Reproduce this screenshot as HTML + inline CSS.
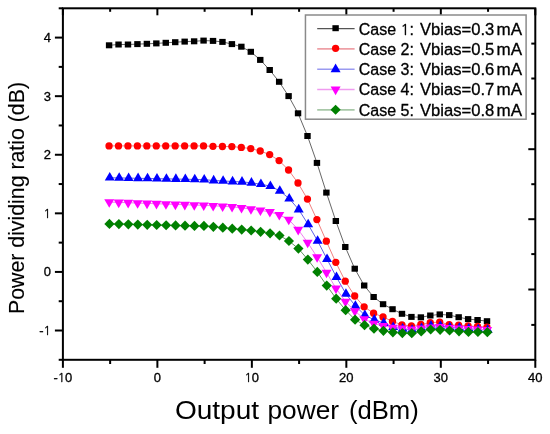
<!DOCTYPE html>
<html><head><meta charset="utf-8"><title>Power dividing ratio</title>
<style>
html,body{margin:0;padding:0;background:#fff;width:550px;height:434px;overflow:hidden}
svg{display:block}
text{font-family:"Liberation Sans",Arial,sans-serif;fill:#000;stroke:#000;stroke-width:0.3px}
.tl text{font-size:13px}
.lg{font-size:16px}
.n1{font-family:"NanumGothic","Liberation Sans",sans-serif}
.yt{font-size:21.3px;stroke-width:0.1px}
.xt{font-size:26px;stroke-width:0}
</style></head><body>
<svg width="550" height="434" viewBox="0 0 550 434">
<rect width="550" height="434" fill="#fff"/>
<g><polyline points="109.09,45.30 118.54,44.50 127.99,44.50 137.43,44.10 146.88,43.80 156.33,43.40 165.78,42.80 175.23,42.20 184.67,41.60 194.12,41.30 203.57,40.60 213.02,40.90 222.47,41.90 231.91,44.10 241.36,46.70 250.81,51.80 260.26,59.90 269.71,70.00 279.15,81.80 288.60,96.10 298.05,113.30 307.50,136.00 316.95,162.90 326.39,192.60 335.84,221.00 345.29,247.00 354.74,268.70 364.19,285.50 373.63,297.00 383.08,304.20 392.53,309.20 401.98,313.80 411.43,316.90 420.87,317.30 430.32,315.50 439.77,314.40 449.22,315.10 458.67,317.20 468.11,319.10 477.56,320.00 487.01,321.20" fill="none" stroke="#666666" stroke-width="1"/><rect x="105.89" y="42.30" width="6.4" height="6.0" fill="#000000"/><rect x="115.34" y="41.50" width="6.4" height="6.0" fill="#000000"/><rect x="124.79" y="41.50" width="6.4" height="6.0" fill="#000000"/><rect x="134.23" y="41.10" width="6.4" height="6.0" fill="#000000"/><rect x="143.68" y="40.80" width="6.4" height="6.0" fill="#000000"/><rect x="153.13" y="40.40" width="6.4" height="6.0" fill="#000000"/><rect x="162.58" y="39.80" width="6.4" height="6.0" fill="#000000"/><rect x="172.03" y="39.20" width="6.4" height="6.0" fill="#000000"/><rect x="181.47" y="38.60" width="6.4" height="6.0" fill="#000000"/><rect x="190.92" y="38.30" width="6.4" height="6.0" fill="#000000"/><rect x="200.37" y="37.60" width="6.4" height="6.0" fill="#000000"/><rect x="209.82" y="37.90" width="6.4" height="6.0" fill="#000000"/><rect x="219.27" y="38.90" width="6.4" height="6.0" fill="#000000"/><rect x="228.71" y="41.10" width="6.4" height="6.0" fill="#000000"/><rect x="238.16" y="43.70" width="6.4" height="6.0" fill="#000000"/><rect x="247.61" y="48.80" width="6.4" height="6.0" fill="#000000"/><rect x="257.06" y="56.90" width="6.4" height="6.0" fill="#000000"/><rect x="266.51" y="67.00" width="6.4" height="6.0" fill="#000000"/><rect x="275.95" y="78.80" width="6.4" height="6.0" fill="#000000"/><rect x="285.40" y="93.10" width="6.4" height="6.0" fill="#000000"/><rect x="294.85" y="110.30" width="6.4" height="6.0" fill="#000000"/><rect x="304.30" y="133.00" width="6.4" height="6.0" fill="#000000"/><rect x="313.75" y="159.90" width="6.4" height="6.0" fill="#000000"/><rect x="323.19" y="189.60" width="6.4" height="6.0" fill="#000000"/><rect x="332.64" y="218.00" width="6.4" height="6.0" fill="#000000"/><rect x="342.09" y="244.00" width="6.4" height="6.0" fill="#000000"/><rect x="351.54" y="265.70" width="6.4" height="6.0" fill="#000000"/><rect x="360.99" y="282.50" width="6.4" height="6.0" fill="#000000"/><rect x="370.43" y="294.00" width="6.4" height="6.0" fill="#000000"/><rect x="379.88" y="301.20" width="6.4" height="6.0" fill="#000000"/><rect x="389.33" y="306.20" width="6.4" height="6.0" fill="#000000"/><rect x="398.78" y="310.80" width="6.4" height="6.0" fill="#000000"/><rect x="408.23" y="313.90" width="6.4" height="6.0" fill="#000000"/><rect x="417.67" y="314.30" width="6.4" height="6.0" fill="#000000"/><rect x="427.12" y="312.50" width="6.4" height="6.0" fill="#000000"/><rect x="436.57" y="311.40" width="6.4" height="6.0" fill="#000000"/><rect x="446.02" y="312.10" width="6.4" height="6.0" fill="#000000"/><rect x="455.47" y="314.20" width="6.4" height="6.0" fill="#000000"/><rect x="464.91" y="316.10" width="6.4" height="6.0" fill="#000000"/><rect x="474.36" y="317.00" width="6.4" height="6.0" fill="#000000"/><rect x="483.81" y="318.20" width="6.4" height="6.0" fill="#000000"/><polyline points="109.04,145.90 118.49,145.90 127.94,145.90 137.38,145.90 146.83,145.90 156.28,145.90 165.73,145.90 175.18,145.90 184.62,145.90 194.07,145.90 203.52,145.90 212.97,146.30 222.42,146.50 231.86,146.60 241.31,147.40 250.76,148.60 260.21,151.00 269.66,154.60 279.10,160.60 288.55,170.00 298.00,183.00 307.45,199.10 316.90,219.60 326.34,241.20 335.79,262.30 345.24,281.20 354.69,296.00 364.14,306.80 373.58,313.20 383.03,317.00 392.48,321.40 401.93,324.80 411.38,325.90 420.82,324.50 430.27,322.70 439.72,322.10 449.17,324.70 458.62,325.20 468.06,325.90 477.51,326.50 486.96,327.20" fill="none" stroke="#f08080" stroke-width="1"/><circle cx="109.04" cy="145.90" r="3.65" fill="#ff0000"/><circle cx="118.49" cy="145.90" r="3.65" fill="#ff0000"/><circle cx="127.94" cy="145.90" r="3.65" fill="#ff0000"/><circle cx="137.38" cy="145.90" r="3.65" fill="#ff0000"/><circle cx="146.83" cy="145.90" r="3.65" fill="#ff0000"/><circle cx="156.28" cy="145.90" r="3.65" fill="#ff0000"/><circle cx="165.73" cy="145.90" r="3.65" fill="#ff0000"/><circle cx="175.18" cy="145.90" r="3.65" fill="#ff0000"/><circle cx="184.62" cy="145.90" r="3.65" fill="#ff0000"/><circle cx="194.07" cy="145.90" r="3.65" fill="#ff0000"/><circle cx="203.52" cy="145.90" r="3.65" fill="#ff0000"/><circle cx="212.97" cy="146.30" r="3.65" fill="#ff0000"/><circle cx="222.42" cy="146.50" r="3.65" fill="#ff0000"/><circle cx="231.86" cy="146.60" r="3.65" fill="#ff0000"/><circle cx="241.31" cy="147.40" r="3.65" fill="#ff0000"/><circle cx="250.76" cy="148.60" r="3.65" fill="#ff0000"/><circle cx="260.21" cy="151.00" r="3.65" fill="#ff0000"/><circle cx="269.66" cy="154.60" r="3.65" fill="#ff0000"/><circle cx="279.10" cy="160.60" r="3.65" fill="#ff0000"/><circle cx="288.55" cy="170.00" r="3.65" fill="#ff0000"/><circle cx="298.00" cy="183.00" r="3.65" fill="#ff0000"/><circle cx="307.45" cy="199.10" r="3.65" fill="#ff0000"/><circle cx="316.90" cy="219.60" r="3.65" fill="#ff0000"/><circle cx="326.34" cy="241.20" r="3.65" fill="#ff0000"/><circle cx="335.79" cy="262.30" r="3.65" fill="#ff0000"/><circle cx="345.24" cy="281.20" r="3.65" fill="#ff0000"/><circle cx="354.69" cy="296.00" r="3.65" fill="#ff0000"/><circle cx="364.14" cy="306.80" r="3.65" fill="#ff0000"/><circle cx="373.58" cy="313.20" r="3.65" fill="#ff0000"/><circle cx="383.03" cy="317.00" r="3.65" fill="#ff0000"/><circle cx="392.48" cy="321.40" r="3.65" fill="#ff0000"/><circle cx="401.93" cy="324.80" r="3.65" fill="#ff0000"/><circle cx="411.38" cy="325.90" r="3.65" fill="#ff0000"/><circle cx="420.82" cy="324.50" r="3.65" fill="#ff0000"/><circle cx="430.27" cy="322.70" r="3.65" fill="#ff0000"/><circle cx="439.72" cy="322.10" r="3.65" fill="#ff0000"/><circle cx="449.17" cy="324.70" r="3.65" fill="#ff0000"/><circle cx="458.62" cy="325.20" r="3.65" fill="#ff0000"/><circle cx="468.06" cy="325.90" r="3.65" fill="#ff0000"/><circle cx="477.51" cy="326.50" r="3.65" fill="#ff0000"/><circle cx="486.96" cy="327.20" r="3.65" fill="#ff0000"/><polyline points="109.74,177.73 119.19,177.92 128.64,178.11 138.08,178.30 147.53,178.49 156.98,178.68 166.43,178.87 175.88,179.06 185.32,179.24 194.77,179.43 204.22,179.63 213.67,180.53 223.12,180.93 232.56,181.53 242.01,181.83 251.46,182.83 260.91,184.23 270.36,186.13 279.80,190.93 289.25,198.63 298.70,209.53 308.15,224.43 317.60,240.93 327.04,259.13 336.49,277.23 345.94,293.93 355.39,305.93 364.84,315.23 374.28,319.83 383.73,323.03 393.18,327.13 402.63,328.83 412.08,329.93 421.52,328.33 430.97,325.83 440.42,325.93 449.87,327.43 459.32,327.93 468.76,328.73 478.21,329.43 487.66,329.93" fill="none" stroke="#6060e8" stroke-width="1"/><path d="M109.74 172.00L114.74 180.60L104.74 180.60Z" fill="#0000ff"/><path d="M119.19 172.19L124.19 180.79L114.19 180.79Z" fill="#0000ff"/><path d="M128.64 172.38L133.64 180.98L123.64 180.98Z" fill="#0000ff"/><path d="M138.08 172.57L143.08 181.17L133.08 181.17Z" fill="#0000ff"/><path d="M147.53 172.76L152.53 181.36L142.53 181.36Z" fill="#0000ff"/><path d="M156.98 172.94L161.98 181.54L151.98 181.54Z" fill="#0000ff"/><path d="M166.43 173.13L171.43 181.73L161.43 181.73Z" fill="#0000ff"/><path d="M175.88 173.32L180.88 181.92L170.88 181.92Z" fill="#0000ff"/><path d="M185.32 173.51L190.32 182.11L180.32 182.11Z" fill="#0000ff"/><path d="M194.77 173.70L199.77 182.30L189.77 182.30Z" fill="#0000ff"/><path d="M204.22 173.90L209.22 182.50L199.22 182.50Z" fill="#0000ff"/><path d="M213.67 174.80L218.67 183.40L208.67 183.40Z" fill="#0000ff"/><path d="M223.12 175.20L228.12 183.80L218.12 183.80Z" fill="#0000ff"/><path d="M232.56 175.80L237.56 184.40L227.56 184.40Z" fill="#0000ff"/><path d="M242.01 176.10L247.01 184.70L237.01 184.70Z" fill="#0000ff"/><path d="M251.46 177.10L256.46 185.70L246.46 185.70Z" fill="#0000ff"/><path d="M260.91 178.50L265.91 187.10L255.91 187.10Z" fill="#0000ff"/><path d="M270.36 180.40L275.36 189.00L265.36 189.00Z" fill="#0000ff"/><path d="M279.80 185.20L284.80 193.80L274.80 193.80Z" fill="#0000ff"/><path d="M289.25 192.90L294.25 201.50L284.25 201.50Z" fill="#0000ff"/><path d="M298.70 203.80L303.70 212.40L293.70 212.40Z" fill="#0000ff"/><path d="M308.15 218.70L313.15 227.30L303.15 227.30Z" fill="#0000ff"/><path d="M317.60 235.20L322.60 243.80L312.60 243.80Z" fill="#0000ff"/><path d="M327.04 253.40L332.04 262.00L322.04 262.00Z" fill="#0000ff"/><path d="M336.49 271.50L341.49 280.10L331.49 280.10Z" fill="#0000ff"/><path d="M345.94 288.20L350.94 296.80L340.94 296.80Z" fill="#0000ff"/><path d="M355.39 300.20L360.39 308.80L350.39 308.80Z" fill="#0000ff"/><path d="M364.84 309.50L369.84 318.10L359.84 318.10Z" fill="#0000ff"/><path d="M374.28 314.10L379.28 322.70L369.28 322.70Z" fill="#0000ff"/><path d="M383.73 317.30L388.73 325.90L378.73 325.90Z" fill="#0000ff"/><path d="M393.18 321.40L398.18 330.00L388.18 330.00Z" fill="#0000ff"/><path d="M402.63 323.10L407.63 331.70L397.63 331.70Z" fill="#0000ff"/><path d="M412.08 324.20L417.08 332.80L407.08 332.80Z" fill="#0000ff"/><path d="M421.52 322.60L426.52 331.20L416.52 331.20Z" fill="#0000ff"/><path d="M430.97 320.10L435.97 328.70L425.97 328.70Z" fill="#0000ff"/><path d="M440.42 320.20L445.42 328.80L435.42 328.80Z" fill="#0000ff"/><path d="M449.87 321.70L454.87 330.30L444.87 330.30Z" fill="#0000ff"/><path d="M459.32 322.20L464.32 330.80L454.32 330.80Z" fill="#0000ff"/><path d="M468.76 323.00L473.76 331.60L463.76 331.60Z" fill="#0000ff"/><path d="M478.21 323.70L483.21 332.30L473.21 332.30Z" fill="#0000ff"/><path d="M487.66 324.20L492.66 332.80L482.66 332.80Z" fill="#0000ff"/><polyline points="109.24,202.07 118.69,202.40 128.14,202.73 137.58,203.07 147.03,203.40 156.48,203.73 165.93,204.07 175.38,204.40 184.82,204.73 194.27,205.07 203.72,205.37 213.17,205.77 222.62,206.27 232.06,206.87 241.51,207.77 250.96,209.07 260.41,210.37 269.86,211.87 279.30,214.87 288.75,219.57 298.20,229.67 307.65,242.57 317.10,257.07 326.54,272.57 335.99,288.27 345.44,301.57 354.89,311.07 364.34,319.07 373.78,323.57 383.23,325.87 392.68,327.67 402.13,328.37 411.58,329.37 421.02,328.37 430.47,327.37 439.92,326.87 449.37,327.87 458.82,328.37 468.26,328.87 477.71,329.37 487.16,329.87" fill="none" stroke="#f080f0" stroke-width="1"/><path d="M104.24 199.20L114.24 199.20L109.24 207.80Z" fill="#ff00ff"/><path d="M113.69 199.53L123.69 199.53L118.69 208.13Z" fill="#ff00ff"/><path d="M123.14 199.87L133.14 199.87L128.14 208.47Z" fill="#ff00ff"/><path d="M132.58 200.20L142.58 200.20L137.58 208.80Z" fill="#ff00ff"/><path d="M142.03 200.53L152.03 200.53L147.03 209.13Z" fill="#ff00ff"/><path d="M151.48 200.87L161.48 200.87L156.48 209.47Z" fill="#ff00ff"/><path d="M160.93 201.20L170.93 201.20L165.93 209.80Z" fill="#ff00ff"/><path d="M170.38 201.53L180.38 201.53L175.38 210.13Z" fill="#ff00ff"/><path d="M179.82 201.87L189.82 201.87L184.82 210.47Z" fill="#ff00ff"/><path d="M189.27 202.20L199.27 202.20L194.27 210.80Z" fill="#ff00ff"/><path d="M198.72 202.50L208.72 202.50L203.72 211.10Z" fill="#ff00ff"/><path d="M208.17 202.90L218.17 202.90L213.17 211.50Z" fill="#ff00ff"/><path d="M217.62 203.40L227.62 203.40L222.62 212.00Z" fill="#ff00ff"/><path d="M227.06 204.00L237.06 204.00L232.06 212.60Z" fill="#ff00ff"/><path d="M236.51 204.90L246.51 204.90L241.51 213.50Z" fill="#ff00ff"/><path d="M245.96 206.20L255.96 206.20L250.96 214.80Z" fill="#ff00ff"/><path d="M255.41 207.50L265.41 207.50L260.41 216.10Z" fill="#ff00ff"/><path d="M264.86 209.00L274.86 209.00L269.86 217.60Z" fill="#ff00ff"/><path d="M274.30 212.00L284.30 212.00L279.30 220.60Z" fill="#ff00ff"/><path d="M283.75 216.70L293.75 216.70L288.75 225.30Z" fill="#ff00ff"/><path d="M293.20 226.80L303.20 226.80L298.20 235.40Z" fill="#ff00ff"/><path d="M302.65 239.70L312.65 239.70L307.65 248.30Z" fill="#ff00ff"/><path d="M312.10 254.20L322.10 254.20L317.10 262.80Z" fill="#ff00ff"/><path d="M321.54 269.70L331.54 269.70L326.54 278.30Z" fill="#ff00ff"/><path d="M330.99 285.40L340.99 285.40L335.99 294.00Z" fill="#ff00ff"/><path d="M340.44 298.70L350.44 298.70L345.44 307.30Z" fill="#ff00ff"/><path d="M349.89 308.20L359.89 308.20L354.89 316.80Z" fill="#ff00ff"/><path d="M359.34 316.20L369.34 316.20L364.34 324.80Z" fill="#ff00ff"/><path d="M368.78 320.70L378.78 320.70L373.78 329.30Z" fill="#ff00ff"/><path d="M378.23 323.00L388.23 323.00L383.23 331.60Z" fill="#ff00ff"/><path d="M387.68 324.80L397.68 324.80L392.68 333.40Z" fill="#ff00ff"/><path d="M397.13 325.50L407.13 325.50L402.13 334.10Z" fill="#ff00ff"/><path d="M406.58 326.50L416.58 326.50L411.58 335.10Z" fill="#ff00ff"/><path d="M416.02 325.50L426.02 325.50L421.02 334.10Z" fill="#ff00ff"/><path d="M425.47 324.50L435.47 324.50L430.47 333.10Z" fill="#ff00ff"/><path d="M434.92 324.00L444.92 324.00L439.92 332.60Z" fill="#ff00ff"/><path d="M444.37 325.00L454.37 325.00L449.37 333.60Z" fill="#ff00ff"/><path d="M453.82 325.50L463.82 325.50L458.82 334.10Z" fill="#ff00ff"/><path d="M463.26 326.00L473.26 326.00L468.26 334.60Z" fill="#ff00ff"/><path d="M472.71 326.50L482.71 326.50L477.71 335.10Z" fill="#ff00ff"/><path d="M482.16 327.00L492.16 327.00L487.16 335.60Z" fill="#ff00ff"/><polyline points="109.44,223.90 118.89,224.12 128.34,224.34 137.78,224.57 147.23,224.79 156.68,225.01 166.13,225.23 175.58,225.46 185.02,225.68 194.47,225.90 203.92,225.90 213.37,226.80 222.82,227.70 232.26,228.70 241.71,229.60 251.16,230.50 260.61,231.80 270.06,233.30 279.50,235.50 288.95,241.00 298.40,248.60 307.85,259.60 317.30,271.90 326.74,285.60 336.19,298.70 345.64,310.20 355.09,319.70 364.54,325.20 373.98,328.70 383.43,330.80 392.88,332.30 402.33,333.10 411.78,333.20 421.22,331.40 430.67,329.50 440.12,329.80 449.57,330.50 459.02,331.30 468.46,331.90 477.91,332.00 487.36,332.20" fill="none" stroke="#609a60" stroke-width="1"/><path d="M109.44 218.80L114.54 223.90L109.44 229.00L104.34 223.90Z" fill="#008000"/><path d="M118.89 219.02L123.99 224.12L118.89 229.22L113.79 224.12Z" fill="#008000"/><path d="M128.34 219.24L133.44 224.34L128.34 229.44L123.24 224.34Z" fill="#008000"/><path d="M137.78 219.47L142.88 224.57L137.78 229.67L132.68 224.57Z" fill="#008000"/><path d="M147.23 219.69L152.33 224.79L147.23 229.89L142.13 224.79Z" fill="#008000"/><path d="M156.68 219.91L161.78 225.01L156.68 230.11L151.58 225.01Z" fill="#008000"/><path d="M166.13 220.13L171.23 225.23L166.13 230.33L161.03 225.23Z" fill="#008000"/><path d="M175.58 220.36L180.68 225.46L175.58 230.56L170.48 225.46Z" fill="#008000"/><path d="M185.02 220.58L190.12 225.68L185.02 230.78L179.92 225.68Z" fill="#008000"/><path d="M194.47 220.80L199.57 225.90L194.47 231.00L189.37 225.90Z" fill="#008000"/><path d="M203.92 220.80L209.02 225.90L203.92 231.00L198.82 225.90Z" fill="#008000"/><path d="M213.37 221.70L218.47 226.80L213.37 231.90L208.27 226.80Z" fill="#008000"/><path d="M222.82 222.60L227.92 227.70L222.82 232.80L217.72 227.70Z" fill="#008000"/><path d="M232.26 223.60L237.36 228.70L232.26 233.80L227.16 228.70Z" fill="#008000"/><path d="M241.71 224.50L246.81 229.60L241.71 234.70L236.61 229.60Z" fill="#008000"/><path d="M251.16 225.40L256.26 230.50L251.16 235.60L246.06 230.50Z" fill="#008000"/><path d="M260.61 226.70L265.71 231.80L260.61 236.90L255.51 231.80Z" fill="#008000"/><path d="M270.06 228.20L275.16 233.30L270.06 238.40L264.96 233.30Z" fill="#008000"/><path d="M279.50 230.40L284.60 235.50L279.50 240.60L274.40 235.50Z" fill="#008000"/><path d="M288.95 235.90L294.05 241.00L288.95 246.10L283.85 241.00Z" fill="#008000"/><path d="M298.40 243.50L303.50 248.60L298.40 253.70L293.30 248.60Z" fill="#008000"/><path d="M307.85 254.50L312.95 259.60L307.85 264.70L302.75 259.60Z" fill="#008000"/><path d="M317.30 266.80L322.40 271.90L317.30 277.00L312.20 271.90Z" fill="#008000"/><path d="M326.74 280.50L331.84 285.60L326.74 290.70L321.64 285.60Z" fill="#008000"/><path d="M336.19 293.60L341.29 298.70L336.19 303.80L331.09 298.70Z" fill="#008000"/><path d="M345.64 305.10L350.74 310.20L345.64 315.30L340.54 310.20Z" fill="#008000"/><path d="M355.09 314.60L360.19 319.70L355.09 324.80L349.99 319.70Z" fill="#008000"/><path d="M364.54 320.10L369.64 325.20L364.54 330.30L359.44 325.20Z" fill="#008000"/><path d="M373.98 323.60L379.08 328.70L373.98 333.80L368.88 328.70Z" fill="#008000"/><path d="M383.43 325.70L388.53 330.80L383.43 335.90L378.33 330.80Z" fill="#008000"/><path d="M392.88 327.20L397.98 332.30L392.88 337.40L387.78 332.30Z" fill="#008000"/><path d="M402.33 328.00L407.43 333.10L402.33 338.20L397.23 333.10Z" fill="#008000"/><path d="M411.78 328.10L416.88 333.20L411.78 338.30L406.68 333.20Z" fill="#008000"/><path d="M421.22 326.30L426.32 331.40L421.22 336.50L416.12 331.40Z" fill="#008000"/><path d="M430.67 324.40L435.77 329.50L430.67 334.60L425.57 329.50Z" fill="#008000"/><path d="M440.12 324.70L445.22 329.80L440.12 334.90L435.02 329.80Z" fill="#008000"/><path d="M449.57 325.40L454.67 330.50L449.57 335.60L444.47 330.50Z" fill="#008000"/><path d="M459.02 326.20L464.12 331.30L459.02 336.40L453.92 331.30Z" fill="#008000"/><path d="M468.46 326.80L473.56 331.90L468.46 337.00L463.36 331.90Z" fill="#008000"/><path d="M477.91 326.90L483.01 332.00L477.91 337.10L472.81 332.00Z" fill="#008000"/><path d="M487.36 327.10L492.46 332.20L487.36 337.30L482.26 332.20Z" fill="#008000"/></g>
<g><rect x="62.90" y="8.30" width="472.40" height="351.50" fill="none" stroke="#000" stroke-width="2"/><line x1="58.70" y1="8.30" x2="62.90" y2="8.30" stroke="#000" stroke-width="2"/><line x1="54.90" y1="37.59" x2="62.90" y2="37.59" stroke="#000" stroke-width="2"/><line x1="58.70" y1="66.88" x2="62.90" y2="66.88" stroke="#000" stroke-width="2"/><line x1="54.90" y1="96.17" x2="62.90" y2="96.17" stroke="#000" stroke-width="2"/><line x1="58.70" y1="125.47" x2="62.90" y2="125.47" stroke="#000" stroke-width="2"/><line x1="54.90" y1="154.76" x2="62.90" y2="154.76" stroke="#000" stroke-width="2"/><line x1="58.70" y1="184.05" x2="62.90" y2="184.05" stroke="#000" stroke-width="2"/><line x1="54.90" y1="213.34" x2="62.90" y2="213.34" stroke="#000" stroke-width="2"/><line x1="58.70" y1="242.63" x2="62.90" y2="242.63" stroke="#000" stroke-width="2"/><line x1="54.90" y1="271.93" x2="62.90" y2="271.93" stroke="#000" stroke-width="2"/><line x1="58.70" y1="301.22" x2="62.90" y2="301.22" stroke="#000" stroke-width="2"/><line x1="54.90" y1="330.51" x2="62.90" y2="330.51" stroke="#000" stroke-width="2"/><line x1="58.70" y1="359.80" x2="62.90" y2="359.80" stroke="#000" stroke-width="2"/><line x1="62.90" y1="359.80" x2="62.90" y2="367.80" stroke="#000" stroke-width="2"/><line x1="62.90" y1="8.30" x2="62.90" y2="15.30" stroke="#000" stroke-width="2"/><line x1="110.14" y1="359.80" x2="110.14" y2="364.00" stroke="#000" stroke-width="2"/><line x1="110.14" y1="8.30" x2="110.14" y2="11.80" stroke="#000" stroke-width="2"/><line x1="157.38" y1="359.80" x2="157.38" y2="367.80" stroke="#000" stroke-width="2"/><line x1="157.38" y1="8.30" x2="157.38" y2="15.30" stroke="#000" stroke-width="2"/><line x1="204.62" y1="359.80" x2="204.62" y2="364.00" stroke="#000" stroke-width="2"/><line x1="204.62" y1="8.30" x2="204.62" y2="11.80" stroke="#000" stroke-width="2"/><line x1="251.86" y1="359.80" x2="251.86" y2="367.80" stroke="#000" stroke-width="2"/><line x1="251.86" y1="8.30" x2="251.86" y2="15.30" stroke="#000" stroke-width="2"/><line x1="299.10" y1="359.80" x2="299.10" y2="364.00" stroke="#000" stroke-width="2"/><line x1="299.10" y1="8.30" x2="299.10" y2="11.80" stroke="#000" stroke-width="2"/><line x1="346.34" y1="359.80" x2="346.34" y2="367.80" stroke="#000" stroke-width="2"/><line x1="346.34" y1="8.30" x2="346.34" y2="15.30" stroke="#000" stroke-width="2"/><line x1="393.58" y1="359.80" x2="393.58" y2="364.00" stroke="#000" stroke-width="2"/><line x1="393.58" y1="8.30" x2="393.58" y2="11.80" stroke="#000" stroke-width="2"/><line x1="440.82" y1="359.80" x2="440.82" y2="367.80" stroke="#000" stroke-width="2"/><line x1="440.82" y1="8.30" x2="440.82" y2="15.30" stroke="#000" stroke-width="2"/><line x1="488.06" y1="359.80" x2="488.06" y2="364.00" stroke="#000" stroke-width="2"/><line x1="488.06" y1="8.30" x2="488.06" y2="11.80" stroke="#000" stroke-width="2"/><line x1="535.30" y1="359.80" x2="535.30" y2="367.80" stroke="#000" stroke-width="2"/><line x1="535.30" y1="8.30" x2="535.30" y2="15.30" stroke="#000" stroke-width="2"/><line x1="531.30" y1="43.60" x2="535.30" y2="43.60" stroke="#000" stroke-width="2"/><line x1="531.30" y1="78.50" x2="535.30" y2="78.50" stroke="#000" stroke-width="2"/><line x1="531.30" y1="113.80" x2="535.30" y2="113.80" stroke="#000" stroke-width="2"/><line x1="528.30" y1="149.20" x2="535.30" y2="149.20" stroke="#000" stroke-width="2"/><line x1="531.30" y1="184.20" x2="535.30" y2="184.20" stroke="#000" stroke-width="2"/><line x1="528.30" y1="219.20" x2="535.30" y2="219.20" stroke="#000" stroke-width="2"/><line x1="531.30" y1="254.10" x2="535.30" y2="254.10" stroke="#000" stroke-width="2"/><line x1="528.30" y1="289.50" x2="535.30" y2="289.50" stroke="#000" stroke-width="2"/><line x1="531.30" y1="324.90" x2="535.30" y2="324.90" stroke="#000" stroke-width="2"/></g>
<g class="tl"><text transform="translate(50.9,41.99) scale(1,1.03)" text-anchor="end">4</text><text transform="translate(50.9,100.58) scale(1,1.03)" text-anchor="end">3</text><text transform="translate(50.9,159.16) scale(1,1.03)" text-anchor="end">2</text><text transform="translate(50.9,217.74) scale(1,1.03)" text-anchor="end"><tspan dx="-0.03" class="n1" style="font-size:12.04px">1</tspan></text><text transform="translate(50.9,276.32) scale(1,1.03)" text-anchor="end">0</text><text transform="translate(50.9,334.91) scale(1,1.03)" text-anchor="end">-<tspan dx="-0.03" class="n1" style="font-size:12.04px">1</tspan></text><text transform="translate(62.90,381.9) scale(1,1.03)" text-anchor="middle">-<tspan dx="-0.03" class="n1" style="font-size:12.04px">1</tspan><tspan dx="-0.03">0</tspan></text><text transform="translate(157.38,381.9) scale(1,1.03)" text-anchor="middle">0</text><text transform="translate(251.86,381.9) scale(1,1.03)" text-anchor="middle"><tspan dx="-0.03" class="n1" style="font-size:12.04px">1</tspan><tspan dx="-0.03">0</tspan></text><text transform="translate(346.34,381.9) scale(1,1.03)" text-anchor="middle">20</text><text transform="translate(440.82,381.9) scale(1,1.03)" text-anchor="middle">30</text><text transform="translate(535.30,381.9) scale(1,1.03)" text-anchor="middle">40</text></g>
<g><rect x="305.45" y="15.0" width="220.65" height="104.2" fill="#fff" stroke="#8a8a8a" stroke-width="1.5"/><line x1="317.2" y1="28.60" x2="354.6" y2="28.60" stroke="#555555" stroke-width="1.3"/><rect x="332.40" y="25.20" width="6.4" height="6.0" fill="#000000"/><text y="34.80" class="lg"><tspan x="358.8">Case <tspan dx="-0.04" class="n1" style="font-size:14.82px">1</tspan><tspan dx="-0.04">:</tspan></tspan> <tspan x="420" textLength="74.3" lengthAdjust="spacingAndGlyphs">Vbias=0.3</tspan> <tspan x="496.6" textLength="25.5" lengthAdjust="spacingAndGlyphs">mA</tspan></text><line x1="317.2" y1="48.90" x2="354.6" y2="48.90" stroke="#eea0a6" stroke-width="1.8"/><circle cx="335.60" cy="48.30" r="3.65" fill="#ff0000"/><text y="54.80" class="lg"><tspan x="358.8">Case 2:</tspan> <tspan x="420" textLength="74.3" lengthAdjust="spacingAndGlyphs">Vbias=0.5</tspan> <tspan x="496.6" textLength="25.5" lengthAdjust="spacingAndGlyphs">mA</tspan></text><line x1="317.2" y1="69.20" x2="354.6" y2="69.20" stroke="#9a9af0" stroke-width="1.6"/><path d="M335.60 63.57L340.60 72.17L330.60 72.17Z" fill="#0000ff"/><text y="75.00" class="lg"><tspan x="358.8">Case 3:</tspan> <tspan x="420" textLength="74.3" lengthAdjust="spacingAndGlyphs">Vbias=0.6</tspan> <tspan x="496.6" textLength="25.5" lengthAdjust="spacingAndGlyphs">mA</tspan></text><line x1="317.2" y1="89.50" x2="354.6" y2="89.50" stroke="#f09af0" stroke-width="1.6"/><path d="M330.60 86.53L340.60 86.53L335.60 95.13Z" fill="#ff00ff"/><text y="95.40" class="lg"><tspan x="358.8">Case 4:</tspan> <tspan x="420" textLength="74.3" lengthAdjust="spacingAndGlyphs">Vbias=0.7</tspan> <tspan x="496.6" textLength="25.5" lengthAdjust="spacingAndGlyphs">mA</tspan></text><line x1="317.2" y1="109.90" x2="354.6" y2="109.90" stroke="#a8c8a8" stroke-width="1.8"/><path d="M335.60 104.65L340.70 109.75L335.60 114.85L330.50 109.75Z" fill="#008000"/><text y="115.60" class="lg"><tspan x="358.8">Case 5:</tspan> <tspan x="420" textLength="74.3" lengthAdjust="spacingAndGlyphs">Vbias=0.8</tspan> <tspan x="496.6" textLength="25.5" lengthAdjust="spacingAndGlyphs">mA</tspan></text></g>
<text class="yt" transform="translate(24.4,314.0) rotate(-90)">Power dividing ratio (dB)</text>
<text class="xt" y="419"><tspan x="174.9" textLength="84.2" lengthAdjust="spacingAndGlyphs">Output</tspan> <tspan x="267.5" textLength="71.5" lengthAdjust="spacingAndGlyphs">power</tspan> <tspan x="348.9" textLength="69.8" lengthAdjust="spacingAndGlyphs">(dBm)</tspan></text>
</svg>
</body></html>
